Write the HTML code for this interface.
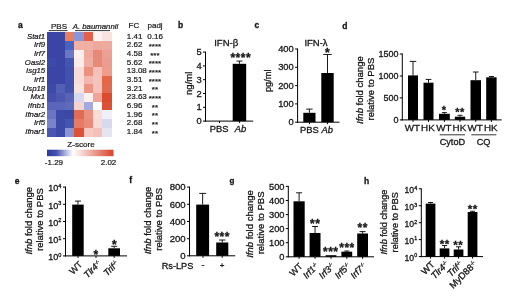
<!DOCTYPE html>
<html><head><meta charset="utf-8"><title>Figure</title>
<style>
html,body{margin:0;padding:0;background:#fff;}
svg{display:block;filter:blur(0.4px);}
svg text{font-family:"Liberation Sans", Arial, sans-serif;fill:#161616;stroke:#161616;stroke-width:0.3px;}
svg .pa text{stroke-width:0.2px;}
</style></head>
<body>
<svg width="520" height="308" viewBox="0 0 520 308">
<rect x="0" y="0" width="520" height="308" fill="#ffffff"/>
<g shape-rendering="crispEdges">
<rect x="46.60" y="32.40" width="9.56" height="8.95" fill="#3a45a5"/>
<rect x="55.86" y="32.40" width="9.56" height="8.95" fill="#3a45a5"/>
<rect x="65.12" y="32.40" width="9.56" height="8.95" fill="#e8805f"/>
<rect x="74.38" y="32.40" width="9.56" height="8.95" fill="#8a96d8"/>
<rect x="83.64" y="32.40" width="9.56" height="8.95" fill="#e4604a"/>
<rect x="92.90" y="32.40" width="9.56" height="8.95" fill="#fbf3f3"/>
<rect x="102.16" y="32.40" width="9.56" height="8.95" fill="#f8e3df"/>
<rect x="46.60" y="41.05" width="9.56" height="8.95" fill="#3a45a5"/>
<rect x="55.86" y="41.05" width="9.56" height="8.95" fill="#3a45a5"/>
<rect x="65.12" y="41.05" width="9.56" height="8.95" fill="#4a62c0"/>
<rect x="74.38" y="41.05" width="9.56" height="8.95" fill="#f0b0a5"/>
<rect x="83.64" y="41.05" width="9.56" height="8.95" fill="#f0b0a5"/>
<rect x="92.90" y="41.05" width="9.56" height="8.95" fill="#eea89c"/>
<rect x="102.16" y="41.05" width="9.56" height="8.95" fill="#eeaa9e"/>
<rect x="46.60" y="49.70" width="9.56" height="8.95" fill="#3a45a5"/>
<rect x="55.86" y="49.70" width="9.56" height="8.95" fill="#3a45a5"/>
<rect x="65.12" y="49.70" width="9.56" height="8.95" fill="#6a78c4"/>
<rect x="74.38" y="49.70" width="9.56" height="8.95" fill="#fbeeee"/>
<rect x="83.64" y="49.70" width="9.56" height="8.95" fill="#eea89c"/>
<rect x="92.90" y="49.70" width="9.56" height="8.95" fill="#e88878"/>
<rect x="102.16" y="49.70" width="9.56" height="8.95" fill="#eca094"/>
<rect x="46.60" y="58.35" width="9.56" height="8.95" fill="#3e4aa8"/>
<rect x="55.86" y="58.35" width="9.56" height="8.95" fill="#3a45a5"/>
<rect x="65.12" y="58.35" width="9.56" height="8.95" fill="#4256b0"/>
<rect x="74.38" y="58.35" width="9.56" height="8.95" fill="#fbecea"/>
<rect x="83.64" y="58.35" width="9.56" height="8.95" fill="#f0aea2"/>
<rect x="92.90" y="58.35" width="9.56" height="8.95" fill="#e88a7a"/>
<rect x="102.16" y="58.35" width="9.56" height="8.95" fill="#ec9c8e"/>
<rect x="46.60" y="67.00" width="9.56" height="8.95" fill="#3a45a5"/>
<rect x="55.86" y="67.00" width="9.56" height="8.95" fill="#3a45a5"/>
<rect x="65.12" y="67.00" width="9.56" height="8.95" fill="#4252ac"/>
<rect x="74.38" y="67.00" width="9.56" height="8.95" fill="#f8dcd8"/>
<rect x="83.64" y="67.00" width="9.56" height="8.95" fill="#ec9080"/>
<rect x="92.90" y="67.00" width="9.56" height="8.95" fill="#f4c0b8"/>
<rect x="102.16" y="67.00" width="9.56" height="8.95" fill="#ee9c8c"/>
<rect x="46.60" y="75.65" width="9.56" height="8.95" fill="#3a45a5"/>
<rect x="55.86" y="75.65" width="9.56" height="8.95" fill="#3a45a5"/>
<rect x="65.12" y="75.65" width="9.56" height="8.95" fill="#4252ac"/>
<rect x="74.38" y="75.65" width="9.56" height="8.95" fill="#f8dcd8"/>
<rect x="83.64" y="75.65" width="9.56" height="8.95" fill="#f2b8ae"/>
<rect x="92.90" y="75.65" width="9.56" height="8.95" fill="#f4c4bc"/>
<rect x="102.16" y="75.65" width="9.56" height="8.95" fill="#e46848"/>
<rect x="46.60" y="84.30" width="9.56" height="8.95" fill="#3e4aa8"/>
<rect x="55.86" y="84.30" width="9.56" height="8.95" fill="#5360b4"/>
<rect x="65.12" y="84.30" width="9.56" height="8.95" fill="#4252ac"/>
<rect x="74.38" y="84.30" width="9.56" height="8.95" fill="#f8e2de"/>
<rect x="83.64" y="84.30" width="9.56" height="8.95" fill="#ea9484"/>
<rect x="92.90" y="84.30" width="9.56" height="8.95" fill="#f4c2ba"/>
<rect x="102.16" y="84.30" width="9.56" height="8.95" fill="#df6a50"/>
<rect x="46.60" y="92.95" width="9.56" height="8.95" fill="#4450ac"/>
<rect x="55.86" y="92.95" width="9.56" height="8.95" fill="#4c58b0"/>
<rect x="65.12" y="92.95" width="9.56" height="8.95" fill="#5862b6"/>
<rect x="74.38" y="92.95" width="9.56" height="8.95" fill="#d6d8f0"/>
<rect x="83.64" y="92.95" width="9.56" height="8.95" fill="#fbf0ec"/>
<rect x="92.90" y="92.95" width="9.56" height="8.95" fill="#eea498"/>
<rect x="102.16" y="92.95" width="9.56" height="8.95" fill="#da4c30"/>
<rect x="46.60" y="101.60" width="9.56" height="8.95" fill="#5a66bc"/>
<rect x="55.86" y="101.60" width="9.56" height="8.95" fill="#5a66bc"/>
<rect x="65.12" y="101.60" width="9.56" height="8.95" fill="#5e6aba"/>
<rect x="74.38" y="101.60" width="9.56" height="8.95" fill="#f6d4ce"/>
<rect x="83.64" y="101.60" width="9.56" height="8.95" fill="#a4aade"/>
<rect x="92.90" y="101.60" width="9.56" height="8.95" fill="#ffffff"/>
<rect x="102.16" y="101.60" width="9.56" height="8.95" fill="#dc5236"/>
<rect x="46.60" y="110.25" width="9.56" height="8.95" fill="#6a76c4"/>
<rect x="55.86" y="110.25" width="9.56" height="8.95" fill="#3e4aa8"/>
<rect x="65.12" y="110.25" width="9.56" height="8.95" fill="#3a48a6"/>
<rect x="74.38" y="110.25" width="9.56" height="8.95" fill="#e06c56"/>
<rect x="83.64" y="110.25" width="9.56" height="8.95" fill="#ea9080"/>
<rect x="92.90" y="110.25" width="9.56" height="8.95" fill="#f8dcd8"/>
<rect x="102.16" y="110.25" width="9.56" height="8.95" fill="#f0f0f8"/>
<rect x="46.60" y="118.90" width="9.56" height="8.95" fill="#7a84cc"/>
<rect x="55.86" y="118.90" width="9.56" height="8.95" fill="#3e4aa8"/>
<rect x="65.12" y="118.90" width="9.56" height="8.95" fill="#4456b4"/>
<rect x="74.38" y="118.90" width="9.56" height="8.95" fill="#e67a64"/>
<rect x="83.64" y="118.90" width="9.56" height="8.95" fill="#ea8a78"/>
<rect x="92.90" y="118.90" width="9.56" height="8.95" fill="#f8dad4"/>
<rect x="102.16" y="118.90" width="9.56" height="8.95" fill="#d8d8ee"/>
<rect x="46.60" y="127.55" width="9.56" height="8.95" fill="#4a56b0"/>
<rect x="55.86" y="127.55" width="9.56" height="8.95" fill="#3e4aa8"/>
<rect x="65.12" y="127.55" width="9.56" height="8.95" fill="#8c94d4"/>
<rect x="74.38" y="127.55" width="9.56" height="8.95" fill="#dc5236"/>
<rect x="83.64" y="127.55" width="9.56" height="8.95" fill="#f6c8c0"/>
<rect x="92.90" y="127.55" width="9.56" height="8.95" fill="#f4c0b8"/>
<rect x="102.16" y="127.55" width="9.56" height="8.95" fill="#e6e4f2"/>
</g>
<text x="18" y="27.6" text-anchor="start" style="font-size:8.5px;font-weight:bold;">a</text>
<g class="pa">
<text x="59" y="28.7" text-anchor="middle" style="font-size:8px;">PBS</text>
<text x="95.5" y="28.7" text-anchor="middle" style="font-size:7.8px;font-style:italic;">A. baumannii</text>
<line x1="48.7" y1="30.6" x2="67.5" y2="30.6" stroke="#000" stroke-width="0.8"/>
<line x1="75" y1="30.6" x2="110" y2="30.6" stroke="#000" stroke-width="0.8"/>
<text x="128.6" y="28.2" text-anchor="start" style="font-size:8px;">FC</text>
<text x="147.5" y="28.2" text-anchor="start" style="font-size:8px;">padj</text>
<text x="45.2" y="38.83" text-anchor="end" style="font-size:7.8px;font-style:italic;">Stat1</text>
<text x="126.8" y="38.83" text-anchor="start" style="font-size:8.0px;">1.41</text>
<text x="147.3" y="38.83" text-anchor="start" style="font-size:8.0px;">0.16</text>
<text x="45.2" y="47.48" text-anchor="end" style="font-size:7.8px;font-style:italic;">Irf9</text>
<text x="126.8" y="47.48" text-anchor="start" style="font-size:8.0px;">2.62</text>
<text x="154.9" y="49.17" text-anchor="middle" style="font-size:8px;">****</text>
<text x="45.2" y="56.12" text-anchor="end" style="font-size:7.8px;font-style:italic;">Irf7</text>
<text x="126.8" y="56.12" text-anchor="start" style="font-size:8.0px;">4.58</text>
<text x="154.9" y="57.82" text-anchor="middle" style="font-size:8px;">***</text>
<text x="45.2" y="64.77" text-anchor="end" style="font-size:7.8px;font-style:italic;">Oasl2</text>
<text x="126.8" y="64.77" text-anchor="start" style="font-size:8.0px;">5.62</text>
<text x="154.9" y="66.47" text-anchor="middle" style="font-size:8px;">****</text>
<text x="45.2" y="73.42" text-anchor="end" style="font-size:7.8px;font-style:italic;">Isg15</text>
<text x="126.8" y="73.42" text-anchor="start" style="font-size:8.0px;">13.08</text>
<text x="154.9" y="75.12" text-anchor="middle" style="font-size:8px;">****</text>
<text x="45.2" y="82.07" text-anchor="end" style="font-size:7.8px;font-style:italic;">Irf1</text>
<text x="126.8" y="82.07" text-anchor="start" style="font-size:8.0px;">3.51</text>
<text x="154.9" y="83.77" text-anchor="middle" style="font-size:8px;">****</text>
<text x="45.2" y="90.72" text-anchor="end" style="font-size:7.8px;font-style:italic;">Usp18</text>
<text x="126.8" y="90.72" text-anchor="start" style="font-size:8.0px;">3.21</text>
<text x="154.9" y="92.42" text-anchor="middle" style="font-size:8px;">**</text>
<text x="45.2" y="99.38" text-anchor="end" style="font-size:7.8px;font-style:italic;">Mx1</text>
<text x="126.8" y="99.38" text-anchor="start" style="font-size:8.0px;">23.63</text>
<text x="154.9" y="101.08" text-anchor="middle" style="font-size:8px;">****</text>
<text x="45.2" y="108.03" text-anchor="end" style="font-size:7.8px;font-style:italic;">Ifnb1</text>
<text x="126.8" y="108.03" text-anchor="start" style="font-size:8.0px;">6.96</text>
<text x="154.9" y="109.73" text-anchor="middle" style="font-size:8px;">**</text>
<text x="45.2" y="116.67" text-anchor="end" style="font-size:7.8px;font-style:italic;">Ifnar2</text>
<text x="126.8" y="116.67" text-anchor="start" style="font-size:8.0px;">1.96</text>
<text x="154.9" y="118.37" text-anchor="middle" style="font-size:8px;">**</text>
<text x="45.2" y="125.32" text-anchor="end" style="font-size:7.8px;font-style:italic;">Irf5</text>
<text x="126.8" y="125.32" text-anchor="start" style="font-size:8.0px;">2.68</text>
<text x="154.9" y="127.02" text-anchor="middle" style="font-size:8px;">**</text>
<text x="45.2" y="133.97" text-anchor="end" style="font-size:7.8px;font-style:italic;">Ifnar1</text>
<text x="126.8" y="133.97" text-anchor="start" style="font-size:8.0px;">1.84</text>
<text x="154.9" y="135.68" text-anchor="middle" style="font-size:8px;">**</text>
<text x="81" y="147.4" text-anchor="middle" style="font-size:8.1px;">Z-score</text>
<defs><linearGradient id="cb" x1="0" x2="1" y1="0" y2="0"><stop offset="0" stop-color="#2c399c"/><stop offset="0.14" stop-color="#4450ae"/><stop offset="0.39" stop-color="#ffffff"/><stop offset="1" stop-color="#d8432a"/></linearGradient></defs>
<rect x="47" y="149.7" width="66.5" height="6.5" fill="url(#cb)"/>
<text x="44.8" y="165.2" text-anchor="start" style="font-size:8px;">-1.29</text>
<text x="116.3" y="165.2" text-anchor="end" style="font-size:8px;">2.02</text>
</g>
<text x="178" y="28.2" text-anchor="start" style="font-size:8.5px;font-weight:bold;">b</text>
<text x="226.2" y="46.2" text-anchor="middle" style="font-size:9.5px;">IFN-β</text>
<line x1="205.5" y1="51.6" x2="205.5" y2="121.6" stroke="#000" stroke-width="1"/>
<line x1="203.0" y1="121.1" x2="205.5" y2="121.1" stroke="#000" stroke-width="1"/>
<text x="201.7" y="124.28" text-anchor="end" style="font-size:9.4px;">0</text>
<line x1="203.0" y1="107.3" x2="205.5" y2="107.3" stroke="#000" stroke-width="1"/>
<text x="201.7" y="110.48" text-anchor="end" style="font-size:9.4px;">1</text>
<line x1="203.0" y1="93.5" x2="205.5" y2="93.5" stroke="#000" stroke-width="1"/>
<text x="201.7" y="96.68" text-anchor="end" style="font-size:9.4px;">2</text>
<line x1="203.0" y1="79.7" x2="205.5" y2="79.7" stroke="#000" stroke-width="1"/>
<text x="201.7" y="82.88" text-anchor="end" style="font-size:9.4px;">3</text>
<line x1="203.0" y1="65.9" x2="205.5" y2="65.9" stroke="#000" stroke-width="1"/>
<text x="201.7" y="69.08" text-anchor="end" style="font-size:9.4px;">4</text>
<line x1="203.0" y1="52.1" x2="205.5" y2="52.1" stroke="#000" stroke-width="1"/>
<text x="201.7" y="55.28" text-anchor="end" style="font-size:9.4px;">5</text>
<line x1="204.9" y1="121.1" x2="253.2" y2="121.1" stroke="#000" stroke-width="1"/>
<line x1="219.5" y1="121.1" x2="219.5" y2="123.1" stroke="#000" stroke-width="1"/>
<line x1="239.6" y1="121.1" x2="239.6" y2="123.1" stroke="#000" stroke-width="1"/>
<rect x="232.70" y="63.80" width="13.50" height="57.30" fill="#000"/>
<line x1="239.45" y1="63.8" x2="239.45" y2="61.1" stroke="#000" stroke-width="0.9"/>
<line x1="236.45" y1="61.1" x2="242.45" y2="61.1" stroke="#000" stroke-width="0.9"/>
<text x="240.75" y="62.38" text-anchor="middle" style="font-size:12px;font-weight:bold;letter-spacing:0.5px">****</text>
<text x="191.6" y="83.3" text-anchor="middle" style="font-size:9.5px;" transform="rotate(-90 191.6 83.3)">ng/ml</text>
<text x="219.2" y="131.8" text-anchor="middle" style="font-size:9.4px;">PBS</text>
<text x="240.5" y="131.8" text-anchor="middle" style="font-size:9.4px;font-style:italic;">Ab</text>
<text x="254.5" y="28.1" text-anchor="start" style="font-size:8.5px;font-weight:bold;">c</text>
<text x="316" y="45.9" text-anchor="middle" style="font-size:9.5px;">IFN-λ</text>
<line x1="297.6" y1="48.5" x2="297.6" y2="122.7" stroke="#000" stroke-width="1"/>
<line x1="295.1" y1="122.2" x2="297.6" y2="122.2" stroke="#000" stroke-width="1"/>
<text x="293.8" y="125.38" text-anchor="end" style="font-size:9.4px;">0</text>
<line x1="295.1" y1="103.9" x2="297.6" y2="103.9" stroke="#000" stroke-width="1"/>
<text x="293.8" y="107.08" text-anchor="end" style="font-size:9.4px;">100</text>
<line x1="295.1" y1="85.6" x2="297.6" y2="85.6" stroke="#000" stroke-width="1"/>
<text x="293.8" y="88.78" text-anchor="end" style="font-size:9.4px;">200</text>
<line x1="295.1" y1="67.3" x2="297.6" y2="67.3" stroke="#000" stroke-width="1"/>
<text x="293.8" y="70.48" text-anchor="end" style="font-size:9.4px;">300</text>
<line x1="295.1" y1="49" x2="297.6" y2="49" stroke="#000" stroke-width="1"/>
<text x="293.8" y="52.18" text-anchor="end" style="font-size:9.4px;">400</text>
<line x1="297" y1="122.2" x2="339.5" y2="122.2" stroke="#000" stroke-width="1"/>
<line x1="309.5" y1="122.2" x2="309.5" y2="124.2" stroke="#000" stroke-width="1"/>
<line x1="327.4" y1="122.2" x2="327.4" y2="124.2" stroke="#000" stroke-width="1"/>
<rect x="303.30" y="112.80" width="12.20" height="9.40" fill="#000"/>
<line x1="309.4" y1="112.8" x2="309.4" y2="109.1" stroke="#000" stroke-width="0.9"/>
<line x1="306.2" y1="109.1" x2="312.6" y2="109.1" stroke="#000" stroke-width="0.9"/>
<rect x="321.30" y="73.00" width="12.40" height="49.20" fill="#000"/>
<line x1="327.5" y1="73" x2="327.5" y2="54.5" stroke="#000" stroke-width="0.9"/>
<line x1="323.3" y1="54.5" x2="331.7" y2="54.5" stroke="#000" stroke-width="0.9"/>
<text x="327.65" y="57.28" text-anchor="middle" style="font-size:12px;font-weight:bold;letter-spacing:0.5px">*</text>
<text x="270.7" y="80.7" text-anchor="middle" style="font-size:9.3px;" transform="rotate(-90 270.7 80.7)">pg/ml</text>
<text x="309.5" y="132.8" text-anchor="middle" style="font-size:9.4px;">PBS</text>
<text x="327.3" y="132.8" text-anchor="middle" style="font-size:9.4px;font-style:italic;">Ab</text>
<text x="342.3" y="28.8" text-anchor="start" style="font-size:8.5px;font-weight:bold;">d</text>
<line x1="402.3" y1="53.5" x2="402.3" y2="120.4" stroke="#000" stroke-width="1"/>
<line x1="399.8" y1="119.9" x2="402.3" y2="119.9" stroke="#000" stroke-width="1"/>
<text x="398.5" y="122.94" text-anchor="end" style="font-size:9px;">0</text>
<line x1="399.8" y1="97.9" x2="402.3" y2="97.9" stroke="#000" stroke-width="1"/>
<text x="398.5" y="100.94" text-anchor="end" style="font-size:9px;">500</text>
<line x1="399.8" y1="76" x2="402.3" y2="76" stroke="#000" stroke-width="1"/>
<text x="398.5" y="79.04" text-anchor="end" style="font-size:9px;">1000</text>
<line x1="399.8" y1="54" x2="402.3" y2="54" stroke="#000" stroke-width="1"/>
<text x="398.5" y="57.04" text-anchor="end" style="font-size:9px;">1500</text>
<line x1="401.7" y1="119.9" x2="501.7" y2="119.9" stroke="#000" stroke-width="1"/>
<text x="363" y="90.1" text-anchor="middle" transform="rotate(-90 363 90.1)" style="font-size:9.5px"><tspan style="font-style:italic">Ifnb</tspan> fold change</text>
<text x="374" y="89.1" text-anchor="middle" transform="rotate(-90 374 89.1)" style="font-size:9.5px">relative to PBS</text>
<rect x="408.00" y="75.40" width="10.00" height="44.50" fill="#000"/>
<line x1="413.0" y1="75.4" x2="413.0" y2="61.4" stroke="#000" stroke-width="0.9"/>
<line x1="409.75" y1="61.4" x2="416.25" y2="61.4" stroke="#000" stroke-width="0.9"/>
<line x1="413.0" y1="119.9" x2="413.0" y2="121.9" stroke="#000" stroke-width="1"/>
<text x="412.4" y="131" text-anchor="middle" style="font-size:9.8px;">WT</text>
<rect x="423.50" y="82.70" width="10.00" height="37.20" fill="#000"/>
<line x1="428.5" y1="82.7" x2="428.5" y2="79.4" stroke="#000" stroke-width="0.9"/>
<line x1="425.6" y1="79.4" x2="431.4" y2="79.4" stroke="#000" stroke-width="0.9"/>
<line x1="428.5" y1="119.9" x2="428.5" y2="121.9" stroke="#000" stroke-width="1"/>
<text x="427.9" y="131" text-anchor="middle" style="font-size:9.8px;">HK</text>
<rect x="439.00" y="113.80" width="10.80" height="6.10" fill="#000"/>
<line x1="444.4" y1="113.8" x2="444.4" y2="112.6" stroke="#000" stroke-width="0.9"/>
<line x1="441.9" y1="112.6" x2="446.9" y2="112.6" stroke="#000" stroke-width="0.9"/>
<line x1="444.4" y1="119.9" x2="444.4" y2="121.9" stroke="#000" stroke-width="1"/>
<text x="443.8" y="131" text-anchor="middle" style="font-size:9.8px;">WT</text>
<rect x="454.80" y="116.70" width="10.40" height="3.20" fill="#000"/>
<line x1="460.0" y1="116.7" x2="460.0" y2="115.3" stroke="#000" stroke-width="0.9"/>
<line x1="457.5" y1="115.3" x2="462.5" y2="115.3" stroke="#000" stroke-width="0.9"/>
<line x1="460.0" y1="119.9" x2="460.0" y2="121.9" stroke="#000" stroke-width="1"/>
<text x="459.4" y="131" text-anchor="middle" style="font-size:9.8px;">HK</text>
<rect x="470.50" y="80.20" width="10.50" height="39.70" fill="#000"/>
<line x1="475.75" y1="80.2" x2="475.75" y2="72" stroke="#000" stroke-width="0.9"/>
<line x1="472.95" y1="72" x2="478.55" y2="72" stroke="#000" stroke-width="0.9"/>
<line x1="475.75" y1="119.9" x2="475.75" y2="121.9" stroke="#000" stroke-width="1"/>
<text x="475.15" y="131" text-anchor="middle" style="font-size:9.8px;">WT</text>
<rect x="486.20" y="77.30" width="10.40" height="42.60" fill="#000"/>
<line x1="491.4" y1="77.3" x2="491.4" y2="76.5" stroke="#000" stroke-width="0.9"/>
<line x1="488.9" y1="76.5" x2="493.9" y2="76.5" stroke="#000" stroke-width="0.9"/>
<line x1="491.4" y1="119.9" x2="491.4" y2="121.9" stroke="#000" stroke-width="1"/>
<text x="490.8" y="131" text-anchor="middle" style="font-size:9.8px;">HK</text>
<text x="444.25" y="113.72" text-anchor="middle" style="font-size:11px;font-weight:bold;letter-spacing:0.5px">*</text>
<text x="460.05" y="115.81" text-anchor="middle" style="font-size:11px;font-weight:bold;letter-spacing:0.5px">**</text>
<line x1="439.7" y1="134.8" x2="465" y2="134.8" stroke="#000" stroke-width="0.8"/>
<line x1="471.3" y1="134.8" x2="496.3" y2="134.8" stroke="#000" stroke-width="0.8"/>
<text x="452.4" y="145.1" text-anchor="middle" style="font-size:9.2px;">CytoD</text>
<text x="483.6" y="145.1" text-anchor="middle" style="font-size:9.2px;">CQ</text>
<text x="14.8" y="183.6" text-anchor="start" style="font-size:8.5px;font-weight:bold;">e</text>
<line x1="65.5" y1="186.6" x2="65.5" y2="256.4" stroke="#000" stroke-width="1"/>
<line x1="63.0" y1="255.9" x2="65.5" y2="255.9" stroke="#000" stroke-width="1"/>
<text x="61.3" y="260.10" text-anchor="end" style="font-size:9px">10<tspan dy="-3.4" style="font-size:5.58px">0</tspan></text>
<line x1="63.0" y1="238.7" x2="65.5" y2="238.7" stroke="#000" stroke-width="1"/>
<text x="61.3" y="242.90" text-anchor="end" style="font-size:9px">10<tspan dy="-3.4" style="font-size:5.58px">1</tspan></text>
<line x1="63.0" y1="221.5" x2="65.5" y2="221.5" stroke="#000" stroke-width="1"/>
<text x="61.3" y="225.70" text-anchor="end" style="font-size:9px">10<tspan dy="-3.4" style="font-size:5.58px">2</tspan></text>
<line x1="63.0" y1="204.3" x2="65.5" y2="204.3" stroke="#000" stroke-width="1"/>
<text x="61.3" y="208.50" text-anchor="end" style="font-size:9px">10<tspan dy="-3.4" style="font-size:5.58px">3</tspan></text>
<line x1="63.0" y1="187.1" x2="65.5" y2="187.1" stroke="#000" stroke-width="1"/>
<text x="61.3" y="191.30" text-anchor="end" style="font-size:9px">10<tspan dy="-3.4" style="font-size:5.58px">4</tspan></text>
<line x1="65" y1="255.9" x2="127" y2="255.9" stroke="#000" stroke-width="1"/>
<text x="32" y="220.8" text-anchor="middle" transform="rotate(-90 32 220.8)" style="font-size:9.5px"><tspan style="font-style:italic">Ifnb</tspan> fold change</text>
<text x="43.4" y="219.60000000000002" text-anchor="middle" transform="rotate(-90 43.4 219.60000000000002)" style="font-size:9.5px">relative to PBS</text>
<rect x="72.20" y="204.60" width="11.50" height="51.30" fill="#000"/>
<line x1="77.95" y1="204.6" x2="77.95" y2="201.1" stroke="#000" stroke-width="0.9"/>
<line x1="74.95" y1="201.1" x2="80.95" y2="201.1" stroke="#000" stroke-width="0.9"/>
<rect x="108.30" y="248.30" width="11.70" height="7.60" fill="#000"/>
<line x1="114.15" y1="248.3" x2="114.15" y2="246.3" stroke="#000" stroke-width="0.9"/>
<line x1="111.15" y1="246.3" x2="117.15" y2="246.3" stroke="#000" stroke-width="0.9"/>
<text x="96.05" y="258.78" text-anchor="middle" style="font-size:12px;font-weight:bold;letter-spacing:0.5px">*</text>
<text x="114.55" y="248.78" text-anchor="middle" style="font-size:12px;font-weight:bold;letter-spacing:0.5px">*</text>
<line x1="78" y1="255.9" x2="78" y2="257.9" stroke="#000" stroke-width="1"/>
<line x1="96" y1="255.9" x2="96" y2="257.9" stroke="#000" stroke-width="1"/>
<line x1="114.2" y1="255.9" x2="114.2" y2="257.9" stroke="#000" stroke-width="1"/>
<text x="83.1" y="264.9" text-anchor="end" transform="rotate(-45 83.1 264.9)" style="font-size:9.2px;">WT</text>
<text x="101.8" y="264.2" text-anchor="end" transform="rotate(-45 101.8 264.2)" style="font-size:9.2px;font-style:italic;">Tlr4<tspan dy="-3.2" style="font-size:4.78px">-/-</tspan></text>
<text x="119.3" y="264.5" text-anchor="end" transform="rotate(-45 119.3 264.5)" style="font-size:9.2px;font-style:italic;">Trif<tspan dy="-3.2" style="font-size:4.78px">-/-</tspan></text>
<text x="129.3" y="183" text-anchor="start" style="font-size:8.5px;font-weight:bold;">f</text>
<line x1="189.5" y1="186.6" x2="189.5" y2="256.3" stroke="#000" stroke-width="1"/>
<line x1="187.0" y1="255.8" x2="189.5" y2="255.8" stroke="#000" stroke-width="1"/>
<text x="185.7" y="259.06" text-anchor="end" style="font-size:9.6px;">0</text>
<line x1="187.0" y1="238.7" x2="189.5" y2="238.7" stroke="#000" stroke-width="1"/>
<text x="185.7" y="241.96" text-anchor="end" style="font-size:9.6px;">200</text>
<line x1="187.0" y1="221.5" x2="189.5" y2="221.5" stroke="#000" stroke-width="1"/>
<text x="185.7" y="224.76" text-anchor="end" style="font-size:9.6px;">400</text>
<line x1="187.0" y1="204.3" x2="189.5" y2="204.3" stroke="#000" stroke-width="1"/>
<text x="185.7" y="207.56" text-anchor="end" style="font-size:9.6px;">600</text>
<line x1="187.0" y1="187.1" x2="189.5" y2="187.1" stroke="#000" stroke-width="1"/>
<text x="185.7" y="190.36" text-anchor="end" style="font-size:9.6px;">800</text>
<line x1="189" y1="255.8" x2="235.2" y2="255.8" stroke="#000" stroke-width="1"/>
<text x="151.1" y="220.5" text-anchor="middle" transform="rotate(-90 151.1 220.5)" style="font-size:9.5px"><tspan style="font-style:italic">Ifnb</tspan> fold change</text>
<text x="162.3" y="219.3" text-anchor="middle" transform="rotate(-90 162.3 219.3)" style="font-size:9.5px">relative to PBS</text>
<rect x="196.20" y="204.60" width="12.90" height="51.20" fill="#000"/>
<line x1="202.65" y1="204.6" x2="202.65" y2="193.4" stroke="#000" stroke-width="0.9"/>
<line x1="199.25" y1="193.4" x2="206.05" y2="193.4" stroke="#000" stroke-width="0.9"/>
<rect x="216.20" y="242.50" width="12.10" height="13.30" fill="#000"/>
<line x1="222.25" y1="242.5" x2="222.25" y2="240" stroke="#000" stroke-width="0.9"/>
<line x1="219.05" y1="240" x2="225.45" y2="240" stroke="#000" stroke-width="0.9"/>
<text x="222.15" y="241.38" text-anchor="middle" style="font-size:12px;font-weight:bold;letter-spacing:0.5px">***</text>
<line x1="203" y1="255.8" x2="203" y2="257.8" stroke="#000" stroke-width="1"/>
<line x1="222.2" y1="255.8" x2="222.2" y2="257.8" stroke="#000" stroke-width="1"/>
<text x="161.7" y="268.5" text-anchor="start" style="font-size:9.2px;">Rs-LPS</text>
<text x="203" y="268" text-anchor="middle" style="font-size:9px;">-</text>
<text x="222" y="268.3" text-anchor="middle" style="font-size:8px;">+</text>
<text x="229.5" y="183.0" text-anchor="start" style="font-size:8px;font-weight:bold;">g</text>
<line x1="288.3" y1="185.9" x2="288.3" y2="257.3" stroke="#000" stroke-width="1"/>
<line x1="285.8" y1="256.8" x2="288.3" y2="256.8" stroke="#000" stroke-width="1"/>
<text x="284.5" y="259.95" text-anchor="end" style="font-size:9.3px;">0</text>
<line x1="285.8" y1="242.7" x2="288.3" y2="242.7" stroke="#000" stroke-width="1"/>
<text x="284.5" y="245.85" text-anchor="end" style="font-size:9.3px;">100</text>
<line x1="285.8" y1="228.6" x2="288.3" y2="228.6" stroke="#000" stroke-width="1"/>
<text x="284.5" y="231.75" text-anchor="end" style="font-size:9.3px;">200</text>
<line x1="285.8" y1="214.6" x2="288.3" y2="214.6" stroke="#000" stroke-width="1"/>
<text x="284.5" y="217.75" text-anchor="end" style="font-size:9.3px;">300</text>
<line x1="285.8" y1="200.5" x2="288.3" y2="200.5" stroke="#000" stroke-width="1"/>
<text x="284.5" y="203.65" text-anchor="end" style="font-size:9.3px;">400</text>
<line x1="285.8" y1="186.4" x2="288.3" y2="186.4" stroke="#000" stroke-width="1"/>
<text x="284.5" y="189.55" text-anchor="end" style="font-size:9.3px;">500</text>
<line x1="287.8" y1="256.8" x2="374" y2="256.8" stroke="#000" stroke-width="1"/>
<text x="253.4" y="224.0" text-anchor="middle" transform="rotate(-90 253.4 224.0)" style="font-size:9.5px"><tspan style="font-style:italic">Ifnb</tspan> fold change</text>
<text x="264.4" y="222.9" text-anchor="middle" transform="rotate(-90 264.4 222.9)" style="font-size:9.5px">relative to PBS</text>
<rect x="293.50" y="201.30" width="11.20" height="55.50" fill="#000"/>
<line x1="299.1" y1="201.3" x2="299.1" y2="192.8" stroke="#000" stroke-width="0.9"/>
<line x1="296.1" y1="192.8" x2="302.1" y2="192.8" stroke="#000" stroke-width="0.9"/>
<line x1="299.1" y1="256.8" x2="299.1" y2="258.8" stroke="#000" stroke-width="1"/>
<text x="303.3" y="266.7" text-anchor="end" transform="rotate(-45 303.3 266.7)" style="font-size:9.2px;">WT</text>
<rect x="309.60" y="233.00" width="10.90" height="23.80" fill="#000"/>
<line x1="315.05" y1="233" x2="315.05" y2="226.5" stroke="#000" stroke-width="0.9"/>
<line x1="312.05" y1="226.5" x2="318.05" y2="226.5" stroke="#000" stroke-width="0.9"/>
<line x1="315.05" y1="256.8" x2="315.05" y2="258.8" stroke="#000" stroke-width="1"/>
<text x="319.25" y="266.7" text-anchor="end" transform="rotate(-45 319.25 266.7)" style="font-size:9.2px;font-style:italic;">Irf1<tspan dy="-3.2" style="font-size:4.78px">-/-</tspan></text>
<rect x="325.60" y="255.20" width="10.80" height="1.60" fill="#000"/>
<line x1="331.0" y1="256.8" x2="331.0" y2="258.8" stroke="#000" stroke-width="1"/>
<text x="335.2" y="266.7" text-anchor="end" transform="rotate(-45 335.2 266.7)" style="font-size:9.2px;font-style:italic;">Irf3<tspan dy="-3.2" style="font-size:4.78px">-/-</tspan></text>
<rect x="341.40" y="251.70" width="10.80" height="5.10" fill="#000"/>
<line x1="346.8" y1="251.7" x2="346.8" y2="251.0" stroke="#000" stroke-width="0.9"/>
<line x1="344.3" y1="251.0" x2="349.3" y2="251.0" stroke="#000" stroke-width="0.9"/>
<line x1="346.8" y1="256.8" x2="346.8" y2="258.8" stroke="#000" stroke-width="1"/>
<text x="351.0" y="266.7" text-anchor="end" transform="rotate(-45 351.0 266.7)" style="font-size:9.2px;font-style:italic;">Irf5<tspan dy="-3.2" style="font-size:4.78px">-/-</tspan></text>
<rect x="357.20" y="233.50" width="10.80" height="23.30" fill="#000"/>
<line x1="362.6" y1="233.5" x2="362.6" y2="231.6" stroke="#000" stroke-width="0.9"/>
<line x1="359.6" y1="231.6" x2="365.6" y2="231.6" stroke="#000" stroke-width="0.9"/>
<line x1="362.6" y1="256.8" x2="362.6" y2="258.8" stroke="#000" stroke-width="1"/>
<text x="366.8" y="266.7" text-anchor="end" transform="rotate(-45 366.8 266.7)" style="font-size:9.2px;font-style:italic;">Irf7<tspan dy="-3.2" style="font-size:4.78px">-/-</tspan></text>
<text x="315.15" y="227.68" text-anchor="middle" style="font-size:12px;font-weight:bold;letter-spacing:0.5px">**</text>
<text x="330.75" y="256.38" text-anchor="middle" style="font-size:12px;font-weight:bold;letter-spacing:0.5px">***</text>
<text x="347.05" y="252.38" text-anchor="middle" style="font-size:12px;font-weight:bold;letter-spacing:0.5px">***</text>
<text x="362.65" y="232.28" text-anchor="middle" style="font-size:12px;font-weight:bold;letter-spacing:0.5px">**</text>
<text x="364" y="183.5" text-anchor="start" style="font-size:8.5px;font-weight:bold;">h</text>
<line x1="421.3" y1="188.3" x2="421.3" y2="257.1" stroke="#000" stroke-width="1"/>
<line x1="418.8" y1="256.6" x2="421.3" y2="256.6" stroke="#000" stroke-width="1"/>
<text x="417.1" y="260.80" text-anchor="end" style="font-size:8.6px">10<tspan dy="-3.4" style="font-size:5.33px">0</tspan></text>
<line x1="418.8" y1="239.6" x2="421.3" y2="239.6" stroke="#000" stroke-width="1"/>
<text x="417.1" y="243.80" text-anchor="end" style="font-size:8.6px">10<tspan dy="-3.4" style="font-size:5.33px">1</tspan></text>
<line x1="418.8" y1="222.7" x2="421.3" y2="222.7" stroke="#000" stroke-width="1"/>
<text x="417.1" y="226.90" text-anchor="end" style="font-size:8.6px">10<tspan dy="-3.4" style="font-size:5.33px">2</tspan></text>
<line x1="418.8" y1="205.7" x2="421.3" y2="205.7" stroke="#000" stroke-width="1"/>
<text x="417.1" y="209.90" text-anchor="end" style="font-size:8.6px">10<tspan dy="-3.4" style="font-size:5.33px">3</tspan></text>
<line x1="418.8" y1="188.8" x2="421.3" y2="188.8" stroke="#000" stroke-width="1"/>
<text x="417.1" y="193.00" text-anchor="end" style="font-size:8.6px">10<tspan dy="-3.4" style="font-size:5.33px">4</tspan></text>
<line x1="420.8" y1="256.6" x2="483" y2="256.6" stroke="#000" stroke-width="1"/>
<text x="387.2" y="222.1" text-anchor="middle" transform="rotate(-90 387.2 222.1)" style="font-size:9.1px"><tspan style="font-style:italic">Ifnb</tspan> fold change</text>
<text x="398.5" y="222.29999999999998" text-anchor="middle" transform="rotate(-90 398.5 222.29999999999998)" style="font-size:9.1px">relative to PBS</text>
<rect x="425.70" y="203.60" width="9.70" height="53.00" fill="#000"/>
<line x1="430.55" y1="203.6" x2="430.55" y2="202.5" stroke="#000" stroke-width="0.9"/>
<line x1="428.05" y1="202.5" x2="433.05" y2="202.5" stroke="#000" stroke-width="0.9"/>
<line x1="430.55" y1="256.6" x2="430.55" y2="258.6" stroke="#000" stroke-width="1"/>
<text x="435.35" y="264.9" text-anchor="end" transform="rotate(-45 435.35 264.9)" style="font-size:9.3px;">WT</text>
<rect x="439.70" y="248.40" width="9.70" height="8.20" fill="#000"/>
<line x1="444.55" y1="248.4" x2="444.55" y2="245.5" stroke="#000" stroke-width="0.9"/>
<line x1="442.05" y1="245.5" x2="447.05" y2="245.5" stroke="#000" stroke-width="0.9"/>
<line x1="444.55" y1="256.6" x2="444.55" y2="258.6" stroke="#000" stroke-width="1"/>
<text x="449.35" y="264.9" text-anchor="end" transform="rotate(-45 449.35 264.9)" style="font-size:9.3px;font-style:italic;">Tlr4<tspan dy="-3.2" style="font-size:4.84px">-/-</tspan></text>
<rect x="453.70" y="249.50" width="9.70" height="7.10" fill="#000"/>
<line x1="458.55" y1="249.5" x2="458.55" y2="246.8" stroke="#000" stroke-width="0.9"/>
<line x1="456.05" y1="246.8" x2="461.05" y2="246.8" stroke="#000" stroke-width="0.9"/>
<line x1="458.55" y1="256.6" x2="458.55" y2="258.6" stroke="#000" stroke-width="1"/>
<text x="463.35" y="264.9" text-anchor="end" transform="rotate(-45 463.35 264.9)" style="font-size:9.3px;font-style:italic;">Trif<tspan dy="-3.2" style="font-size:4.84px">-/-</tspan></text>
<rect x="467.70" y="212.00" width="9.70" height="44.60" fill="#000"/>
<line x1="472.55" y1="212" x2="472.55" y2="211.3" stroke="#000" stroke-width="0.9"/>
<line x1="470.05" y1="211.3" x2="475.05" y2="211.3" stroke="#000" stroke-width="0.9"/>
<line x1="472.55" y1="256.6" x2="472.55" y2="258.6" stroke="#000" stroke-width="1"/>
<text x="477.35" y="264.9" text-anchor="end" transform="rotate(-45 477.35 264.9)" style="font-size:9.3px;">MyD88<tspan dy="-3.2" style="font-size:4.84px">-/-</tspan></text>
<text x="444.75" y="247.60" text-anchor="middle" style="font-size:11.5px;font-weight:bold;letter-spacing:0.5px">**</text>
<text x="458.25" y="248.70" text-anchor="middle" style="font-size:11.5px;font-weight:bold;letter-spacing:0.5px">**</text>
<text x="472.65" y="212.90" text-anchor="middle" style="font-size:11.5px;font-weight:bold;letter-spacing:0.5px">**</text>
</svg>
</body></html>
